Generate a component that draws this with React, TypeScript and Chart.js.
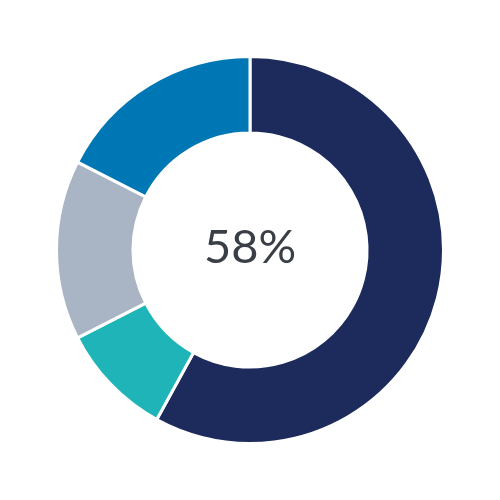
import React, { useEffect, useRef } from 'react';
import { Chart, registerables } from 'chart.js';

Chart.register(...registerables);

const labels = ['Segment A', 'Segment B', 'Segment C', 'Segment D'];
const values = [58, 9.5, 15, 17.5];
const colors = ['#1c2b5b', '#1fb5b8', '#a9b4c4', '#0077b5'];
const centerText = '58%';

const App: React.FC = () => {
  const canvasRef = useRef<HTMLCanvasElement>(null);
  const chartRef = useRef<Chart | null>(null);

  useEffect(() => {
    document.body.style.margin = '0';
    if (!canvasRef.current) return;
    const ctx = canvasRef.current.getContext('2d');
    if (!ctx) return;

    chartRef.current = new Chart(ctx, {
      type: 'doughnut',
      data: {
        labels,
        datasets: [{
          data: values,
          backgroundColor: colors,
          borderColor: '#ffffff',
          borderWidth: 3,
        }]
      },
      options: {
        responsive: true,
        maintainAspectRatio: false,
        animation: false,
        cutout: '60.5%',
        layout: { padding: 55 },
        plugins: {
          legend: { display: false },
          tooltip: { enabled: false }
        }
      }
    });

    return () => {
      if (chartRef.current) {
        chartRef.current.destroy();
      }
    };
  }, []);

  return (
    <div style={{ position: 'relative', width: 500, height: 500, background: '#ffffff' }}>
      <canvas ref={canvasRef}></canvas>
      <div style={{
        position: 'absolute', left: 0, top: -5, width: 500, height: 500,
        display: 'flex', alignItems: 'center', justifyContent: 'center',
        fontFamily: 'Lato, "Open Sans", sans-serif', fontSize: 47, color: '#3a3f47',
        pointerEvents: 'none'
      }}>
        {centerText}
      </div>
    </div>
  );
};

export default App;
